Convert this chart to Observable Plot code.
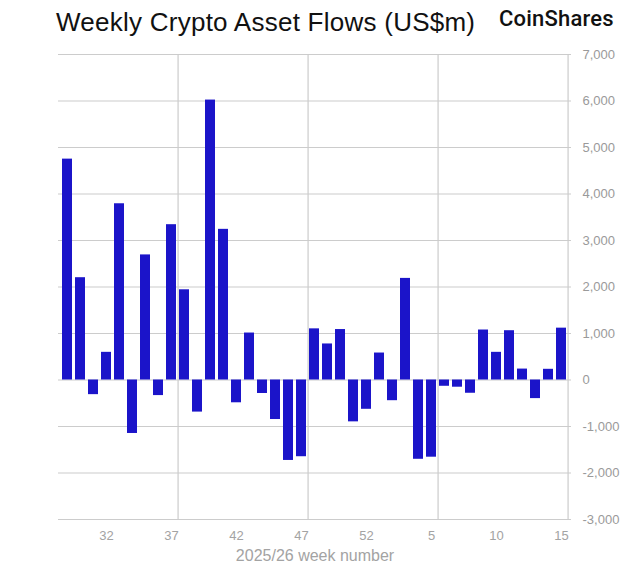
<!DOCTYPE html>
<html>
<head>
<meta charset="utf-8">
<script src="https://cdn.jsdelivr.net/npm/d3@7"></script>
<script src="https://cdn.jsdelivr.net/npm/@observablehq/plot@0.6"></script>
<style>
  body { margin: 0; background: #fff; }
  #wrap { position: relative; width: 640px; height: 573px; font-family: "Liberation Sans", Arial, sans-serif; }
  #title { position: absolute; left: 56px; top: 7px; font-size: 26px; letter-spacing: 0.25px; color: #111; white-space: nowrap; }
  #logo { position: absolute; left: 499px; top: 6px; font-family: Roboto, "Liberation Sans", sans-serif; font-size: 22px; font-weight: 500; color: #111; letter-spacing: 0.2px; white-space: nowrap; }
  #chart { position: absolute; left: 0; top: 0; }
</style>
</head>
<body>
<div id="wrap">
  <div id="chart"></div>
  <div id="title">Weekly Crypto Asset Flows (US$m)</div>
  <div id="logo">CoinShares</div>
</div>
<script>
const weeks = [29,30,31,32,33,34,35,36,37,38,39,40,41,42,43,44,45,46,47,48,49,50,51,52,1,2,3,4,5,6,7,8,9,10,11,12,13,14,15];
const flows = [4750,2200,-315,595,3790,-1150,2690,-335,3340,1940,-690,6020,3240,-490,1010,-290,-850,-1730,-1650,1100,775,1085,-900,-630,580,-445,2185,-1705,-1660,-135,-155,-285,1075,595,1060,235,-400,230,1115];
const xTicks = [32,37,42,47,52,5,10,15];
const gridWeeks = [37,47,5,15];
const yTicks = [-3000,-2000,-1000,0,1000,2000,3000,4000,5000,6000,7000];

const data = weeks.map((w, i) => ({week: w, flow: flows[i]}));

const width = 640, height = 573;
const mL = 58, mR = 69, mT = 54, mB = 54;
const step = (width - mL - mR) / weeks.length;

const chart = Plot.plot({
  width, height,
  marginLeft: mL, marginRight: mR, marginTop: mT, marginBottom: mB,
  style: {fontFamily: "'Liberation Sans', Arial, sans-serif", background: "white"},
  x: {type: "band", domain: weeks, paddingInner: 0.2, paddingOuter: 0.1, label: null},
  y: {domain: [-3000, 7000], label: null},
  marks: [
    Plot.gridY(yTicks, {stroke: "#cccccc", strokeOpacity: 1, strokeWidth: 1.2}),
    Plot.ruleX(gridWeeks, {dx: step / 2, stroke: "#cccccc", strokeWidth: 1.2}),
    Plot.barY(data, {x: "week", y: "flow", fill: "#1b14c9"}),
    Plot.axisY(yTicks, {anchor: "right", tickSize: 0, tickPadding: 11, fontSize: 13, fill: "#9a9a9a",
      tickFormat: d => d.toLocaleString("en-US"), label: null}),
    Plot.axisX(xTicks, {anchor: "bottom", tickSize: 0, tickPadding: 11, fontSize: 13, fill: "#a3a3a3", label: null}),
    Plot.text(["2025/26 week number"], {frameAnchor: "bottom", dy: 41, fontSize: 16, fill: "#a3a3a3", text: d => d})
  ]
});
document.getElementById("chart").appendChild(chart);
</script>
</body>
</html>
